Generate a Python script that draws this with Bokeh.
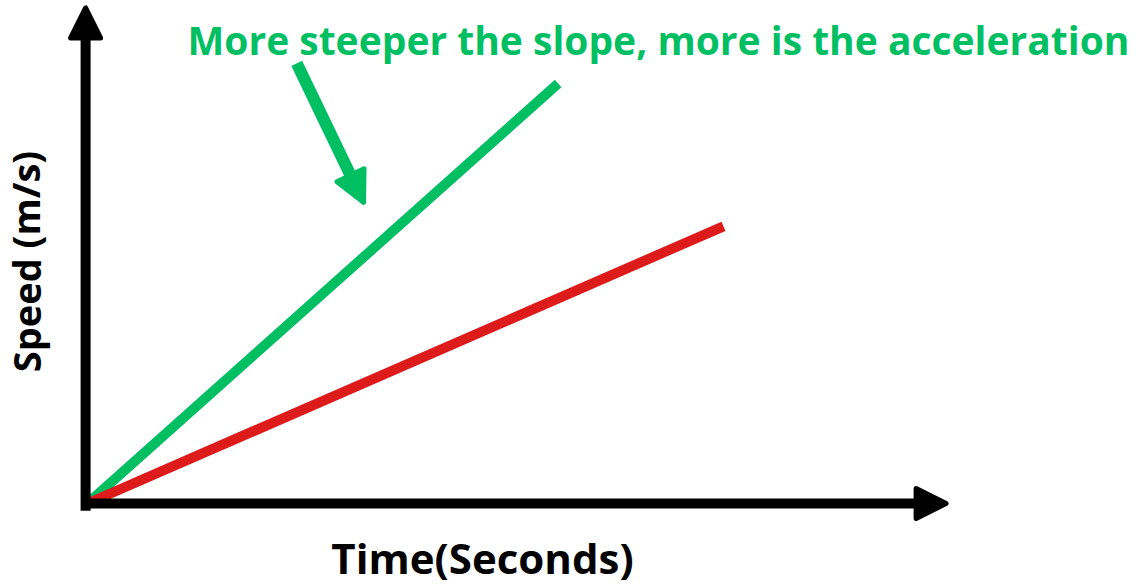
from bokeh.plotting import figure
from bokeh.models import Arrow, NormalHead, Label
from bokeh.embed import file_html
from bokeh.resources import INLINE

# the two speed-time lines (time in s, speed in m/s)
time_steep = [0, 7.4]
speed_steep = [0, 10.0]
time_gentle = [0, 10.0]
speed_gentle = [0, 6.6]

# extent of the drawn axis arrows
time_axis_max = 13.5
speed_axis_max = 11.8

title_text = "More steeper the slope, more is the acceleration"
x_label = "Time(Seconds)"
y_label = "Speed (m/s)"

GREEN = "#00BF63"
RED = "#DE1B1B"
FONT = "Open Sans"

p = figure(
    width=1138,
    height=586,
    x_range=(-1.368, 16.525),
    y_range=(-1.976, 11.976),
    x_axis_type=None,
    y_axis_type=None,
    toolbar_location=None,
    tools="",
    min_border=0,
    output_backend="svg",
)
p.grid.visible = False
p.outline_line_color = None

# axes drawn as thick arrows
for x0, y0, x1, y1 in [(-0.03, -0.17, -0.03, speed_axis_max), (-0.1, 0, time_axis_max, 0)]:
    p.add_layout(
        Arrow(
            x_start=x0, y_start=y0, x_end=x1, y_end=y1,
            line_width=10, line_color="black",
            end=NormalHead(size=30, fill_color="black", line_color="black",
                           line_width=5, line_join="round"),
        )
    )

p.line(time_steep, speed_steep, line_width=10, line_color=GREEN, line_cap="butt")
p.line(time_gentle, speed_gentle, line_width=10, line_color=RED, line_cap="butt")

# pointer from the note to the steep line
p.add_layout(
    Arrow(
        x_start=3.29, y_start=10.48, x_end=4.34, y_end=7.17,
        line_width=12, line_color=GREEN,
        end=NormalHead(size=30, fill_color=GREEN, line_color=GREEN,
                       line_width=5, line_join="round"),
    )
)

p.add_layout(Label(
    x=187, y=547, x_units="screen", y_units="screen", text=title_text,
    text_font=FONT, text_font_style="bold", text_font_size="39px",
    text_color=GREEN, text_align="left", text_baseline="middle",
))
p.add_layout(Label(
    x=482, y=29, x_units="screen", y_units="screen", text=x_label,
    text_font=FONT, text_font_style="bold", text_font_size="42px",
    text_color="black", text_align="center", text_baseline="middle",
))
p.add_layout(Label(
    x=25, y=325, x_units="screen", y_units="screen", text=y_label, angle=1.5708,
    text_font=FONT, text_font_style="bold", text_font_size="38px",
    text_color="black", text_align="center", text_baseline="middle",
))

open("out.html", "w").write(file_html(p, INLINE))
